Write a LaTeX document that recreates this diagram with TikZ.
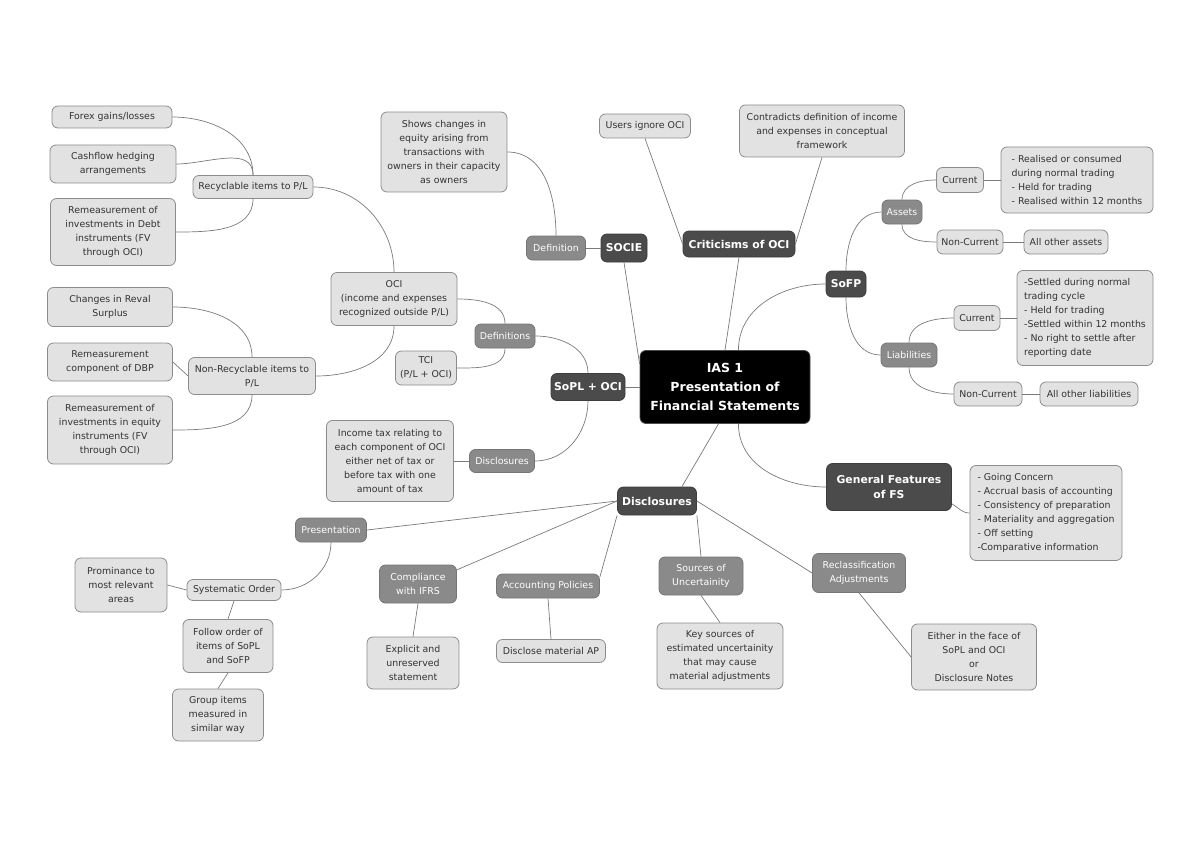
\documentclass[tikz,border=0pt]{standalone}
\usepackage{fontspec}
\setmainfont{DejaVu Sans}
\usepackage{tikz}
\usepackage{xcolor}
\definecolor{topicgray}{HTML}{4B4B4B}
\definecolor{subgray}{HTML}{8A8A8A}
\definecolor{leafgray}{HTML}{E2E2E2}
\definecolor{linegray}{HTML}{7A7A7A}

\begin{document}
\begin{tikzpicture}[x=1pt,y=1pt,
  box/.style={rounded corners=6pt, draw, align=center, inner sep=2pt, line width=0.8pt},
  root/.style={box, fill=black, draw=black!70, text=white, font=\fontsize{12.5}{19}\selectfont\bfseries},
  topic/.style={box, fill=topicgray, draw=topicgray!80!black, text=white, font=\fontsize{10.8}{15}\selectfont\bfseries},
  sub/.style={box, fill=subgray, draw=subgray!85!black, text=white, font=\fontsize{9.4}{14}\selectfont},
  leaf/.style={box, fill=leafgray, draw=black!45, text=black!80, font=\fontsize{9.4}{14}\selectfont},
  link/.style={draw=linegray, line width=0.7pt}]
  \useasboundingbox (0,0) rectangle (1200,-848);

  \node[root, minimum width=170pt, minimum height=73pt] (ias) at (725,-387) {IAS 1\\Presentation of\\Financial Statements};

  \node[topic, minimum width=46pt, minimum height=28pt] (socie) at (624,-248) {SOCIE};
  \node[topic, minimum width=112pt, minimum height=26pt] (crit) at (739,-244) {Criticisms of OCI};
  \node[topic, minimum width=40pt, minimum height=26pt] (sofp) at (846,-284) {SoFP};
  \node[topic, minimum width=74pt, minimum height=27pt] (sopl) at (588,-387) {SoPL + OCI};
  \node[topic, minimum width=125pt, minimum height=47pt] (genf) at (889,-487) {General Features\\of FS};
  \node[topic, minimum width=79pt, minimum height=28pt] (disc) at (657,-501) {Disclosures};

  \node[sub, minimum width=59pt, minimum height=24pt] (socdef) at (556,-248) {Definition};
  \node[sub, minimum width=40pt, minimum height=24pt] (assets) at (902,-212) {Assets};
  \node[sub, minimum width=56pt, minimum height=24pt] (liab) at (909,-355) {Liabilities};
  \node[sub, minimum width=60pt, minimum height=24pt] (opldef) at (505,-336) {Definitions};
  \node[sub, minimum width=65pt, minimum height=23pt] (opldisc) at (502,-461) {Disclosures};
  \node[sub, minimum width=71pt, minimum height=24pt] (pres) at (331,-530) {Presentation};
  \node[sub, minimum width=77pt, minimum height=38pt] (compl) at (418,-584) {Compliance\\with IFRS};
  \node[sub, minimum width=103pt, minimum height=24pt] (accpol) at (548,-586) {Accounting Policies};
  \node[sub, minimum width=84pt, minimum height=38pt] (srcunc) at (701,-576) {Sources of\\Uncertainity};
  \node[sub, minimum width=93pt, minimum height=39pt] (reclass) at (859,-573) {Reclassification\\Adjustments};

  \node[leaf, minimum width=120pt, minimum height=22pt] (forex) at (112,-117) {Forex gains/losses};
  \node[leaf, minimum width=126pt, minimum height=38pt] (cashflow) at (113,-164) {Cashflow hedging\\arrangements};
  \node[leaf, minimum width=125pt, minimum height=67pt] (debt) at (113,-232) {Remeasurement of\\investments in Debt\\instruments (FV\\through OCI)};
  \node[leaf, minimum width=120pt, minimum height=23pt] (recyc) at (253,-187) {Recyclable items to P/L};
  \node[leaf, minimum width=126pt, minimum height=80pt] (showch) at (444,-152) {Shows changes in\\equity arising from\\transactions with\\owners in their capacity\\as owners};
  \node[leaf, minimum width=91pt, minimum height=24pt] (users) at (645,-126) {Users ignore OCI};
  \node[leaf, minimum width=165pt, minimum height=52pt] (contra) at (822,-131) {Contradicts definition of income\\and expenses in conceptual\\framework};
  \node[leaf, minimum width=47pt, minimum height=25pt] (acur) at (960,-180) {Current};
  \node[leaf, minimum width=152pt, minimum height=66pt, align=left] (alist) at (1077,-180) {- Realised or consumed\\during normal trading\\- Held for trading\\- Realised within 12 months};
  \node[leaf, minimum width=66pt, minimum height=24pt] (anonc) at (970,-242) {Non-Current};
  \node[leaf, minimum width=84pt, minimum height=24pt] (aother) at (1066,-242) {All other assets};
  \node[leaf, minimum width=46pt, minimum height=25pt] (lcur) at (977,-318) {Current};
  \node[leaf, minimum width=136pt, minimum height=95pt, align=left] (llist) at (1085,-318) {-Settled during normal\\trading cycle\\- Held for trading\\-Settled within 12 months\\- No right to settle after\\reporting date};
  \node[leaf, minimum width=68pt, minimum height=24pt] (lnonc) at (988,-394) {Non-Current};
  \node[leaf, minimum width=98pt, minimum height=24pt] (lother) at (1089,-394) {All other liabilities};
  \node[leaf, minimum width=126pt, minimum height=53pt] (oci) at (394,-299) {OCI\\(income and expenses\\recognized outside P/L)};
  \node[leaf, minimum width=61pt, minimum height=34pt] (tci) at (426,-368) {TCI\\(P/L + OCI)};
  \node[leaf, minimum width=125pt, minimum height=39pt] (reval) at (110,-307) {Changes in Reval\\Surplus};
  \node[leaf, minimum width=125pt, minimum height=38pt] (dbp) at (110,-362) {Remeasurement\\component of DBP};
  \node[leaf, minimum width=125pt, minimum height=68pt] (equity) at (110,-430) {Remeasurement of\\investments in equity\\instruments (FV\\through OCI)};
  \node[leaf, minimum width=127pt, minimum height=37pt] (nonrec) at (252,-376) {Non-Recyclable items to\\P/L};
  \node[leaf, minimum width=127pt, minimum height=81pt] (inctax) at (390,-461) {Income tax relating to\\each component of OCI\\either net of tax or\\before tax with one\\amount of tax};
  \node[leaf, minimum width=152pt, minimum height=95pt, align=left] (gflist) at (1046,-513) {- Going Concern\\- Accrual basis of accounting\\- Consistency of preparation\\- Materiality and aggregation\\- Off setting\\-Comparative information};
  \node[leaf, minimum width=92pt, minimum height=54pt] (promin) at (121,-585) {Prominance to\\most relevant\\areas};
  \node[leaf, minimum width=94pt, minimum height=21pt] (sysord) at (234,-590) {Systematic Order};
  \node[leaf, minimum width=90pt, minimum height=53pt] (follow) at (228,-646) {Follow order of\\items of SoPL\\and SoFP};
  \node[leaf, minimum width=91pt, minimum height=52pt] (group) at (218,-715) {Group items\\measured in\\similar way};
  \node[leaf, minimum width=92pt, minimum height=52pt] (explicit) at (413,-663) {Explicit and\\unreserved\\statement};
  \node[leaf, minimum width=109pt, minimum height=23pt] (disclap) at (551,-651) {Disclose material AP};
  \node[leaf, minimum width=126pt, minimum height=66pt] (keysrc) at (720,-656) {Key sources of\\estimated uncertainity\\that may cause\\material adjustments};
  \node[leaf, minimum width=125pt, minimum height=66pt] (either) at (974,-657) {Either in the face of\\SoPL and OCI\\or\\Disclosure Notes};

  \draw[link] (forex.east) to[out=0,in=90] (recyc.north);
  \draw[link] (cashflow.east) to[out=0,in=90] (recyc.north);
  \draw[link] (debt.east) to[out=0,in=-90] (recyc.south);
  \draw[link] (recyc.east) to[out=0,in=90] (oci.north);
  \draw[link] (reval.east) to[out=0,in=90] (nonrec.north);
  \draw[link] (dbp.east) -- (nonrec.west);
  \draw[link] (equity.east) to[out=0,in=-90] (nonrec.south);
  \draw[link] (nonrec.east) to[out=0,in=-90] (oci.south);
  \draw[link] (oci.east) to[out=0,in=90] (opldef.north);
  \draw[link] (tci.east) to[out=0,in=-90] (opldef.south);
  \draw[link] (opldef.east) to[out=0,in=90] (sopl.north);
  \draw[link] (inctax.east) -- (opldisc.west);
  \draw[link] (opldisc.east) to[out=0,in=-90] (sopl.south);
  \draw[link] (sopl.east) -- (ias.west);
  \draw[link] (showch.east) to[out=0,in=90] (socdef.north);
  \draw[link] (socdef.east) -- (socie.west);
  \draw[link] (socie.south) -- (ias.165);
  \draw[link] (users.south) -- (crit.west);
  \draw[link] (contra.south) -- (crit.east);
  \draw[link] (crit.south) -- (ias.north);
  \draw[link] (sofp.west) to[out=180,in=90] (ias.70);
  \draw[link] (assets.west) to[out=180,in=90] (sofp.north);
  \draw[link] (liab.west) to[out=180,in=-90] (sofp.south);
  \draw[link] (acur.west) to[out=180,in=90] (assets.north);
  \draw[link] (anonc.west) to[out=180,in=-90] (assets.south);
  \draw[link] (acur.east) -- (alist.west);
  \draw[link] (anonc.east) -- (aother.west);
  \draw[link] (lcur.west) to[out=180,in=90] (liab.north);
  \draw[link] (lnonc.west) to[out=180,in=-90] (liab.south);
  \draw[link] (lcur.east) -- (llist.west);
  \draw[link] (lnonc.east) -- (lother.west);
  \draw[link] (ias.-70) to[out=-90,in=180] (genf.west);
  \draw[link] (genf.-15) to[out=-30,in=180] (gflist.west);
  \draw[link] (ias.-100) -- (disc.30);
  \draw[link] (disc.west) -- (pres.east);
  \draw[link] (disc.west) -- (compl.20);
  \draw[link] (disc.south west) -- (accpol.10);
  \draw[link] (disc.south east) -- (srcunc.north);
  \draw[link] (disc.east) -- (reclass.west);
  \draw[link] (pres.south) to[out=-90,in=0] (sysord.east);
  \draw[link] (promin.east) -- (sysord.west);
  \draw[link] (sysord.south) -- (follow.north);
  \draw[link] (follow.south) -- (group.north);
  \draw[link] (compl.south) -- (explicit.north);
  \draw[link] (accpol.south) -- (disclap.north);
  \draw[link] (srcunc.south) -- (keysrc.north);
  \draw[link] (reclass.south) -- (either.west);
\end{tikzpicture}
\end{document}
